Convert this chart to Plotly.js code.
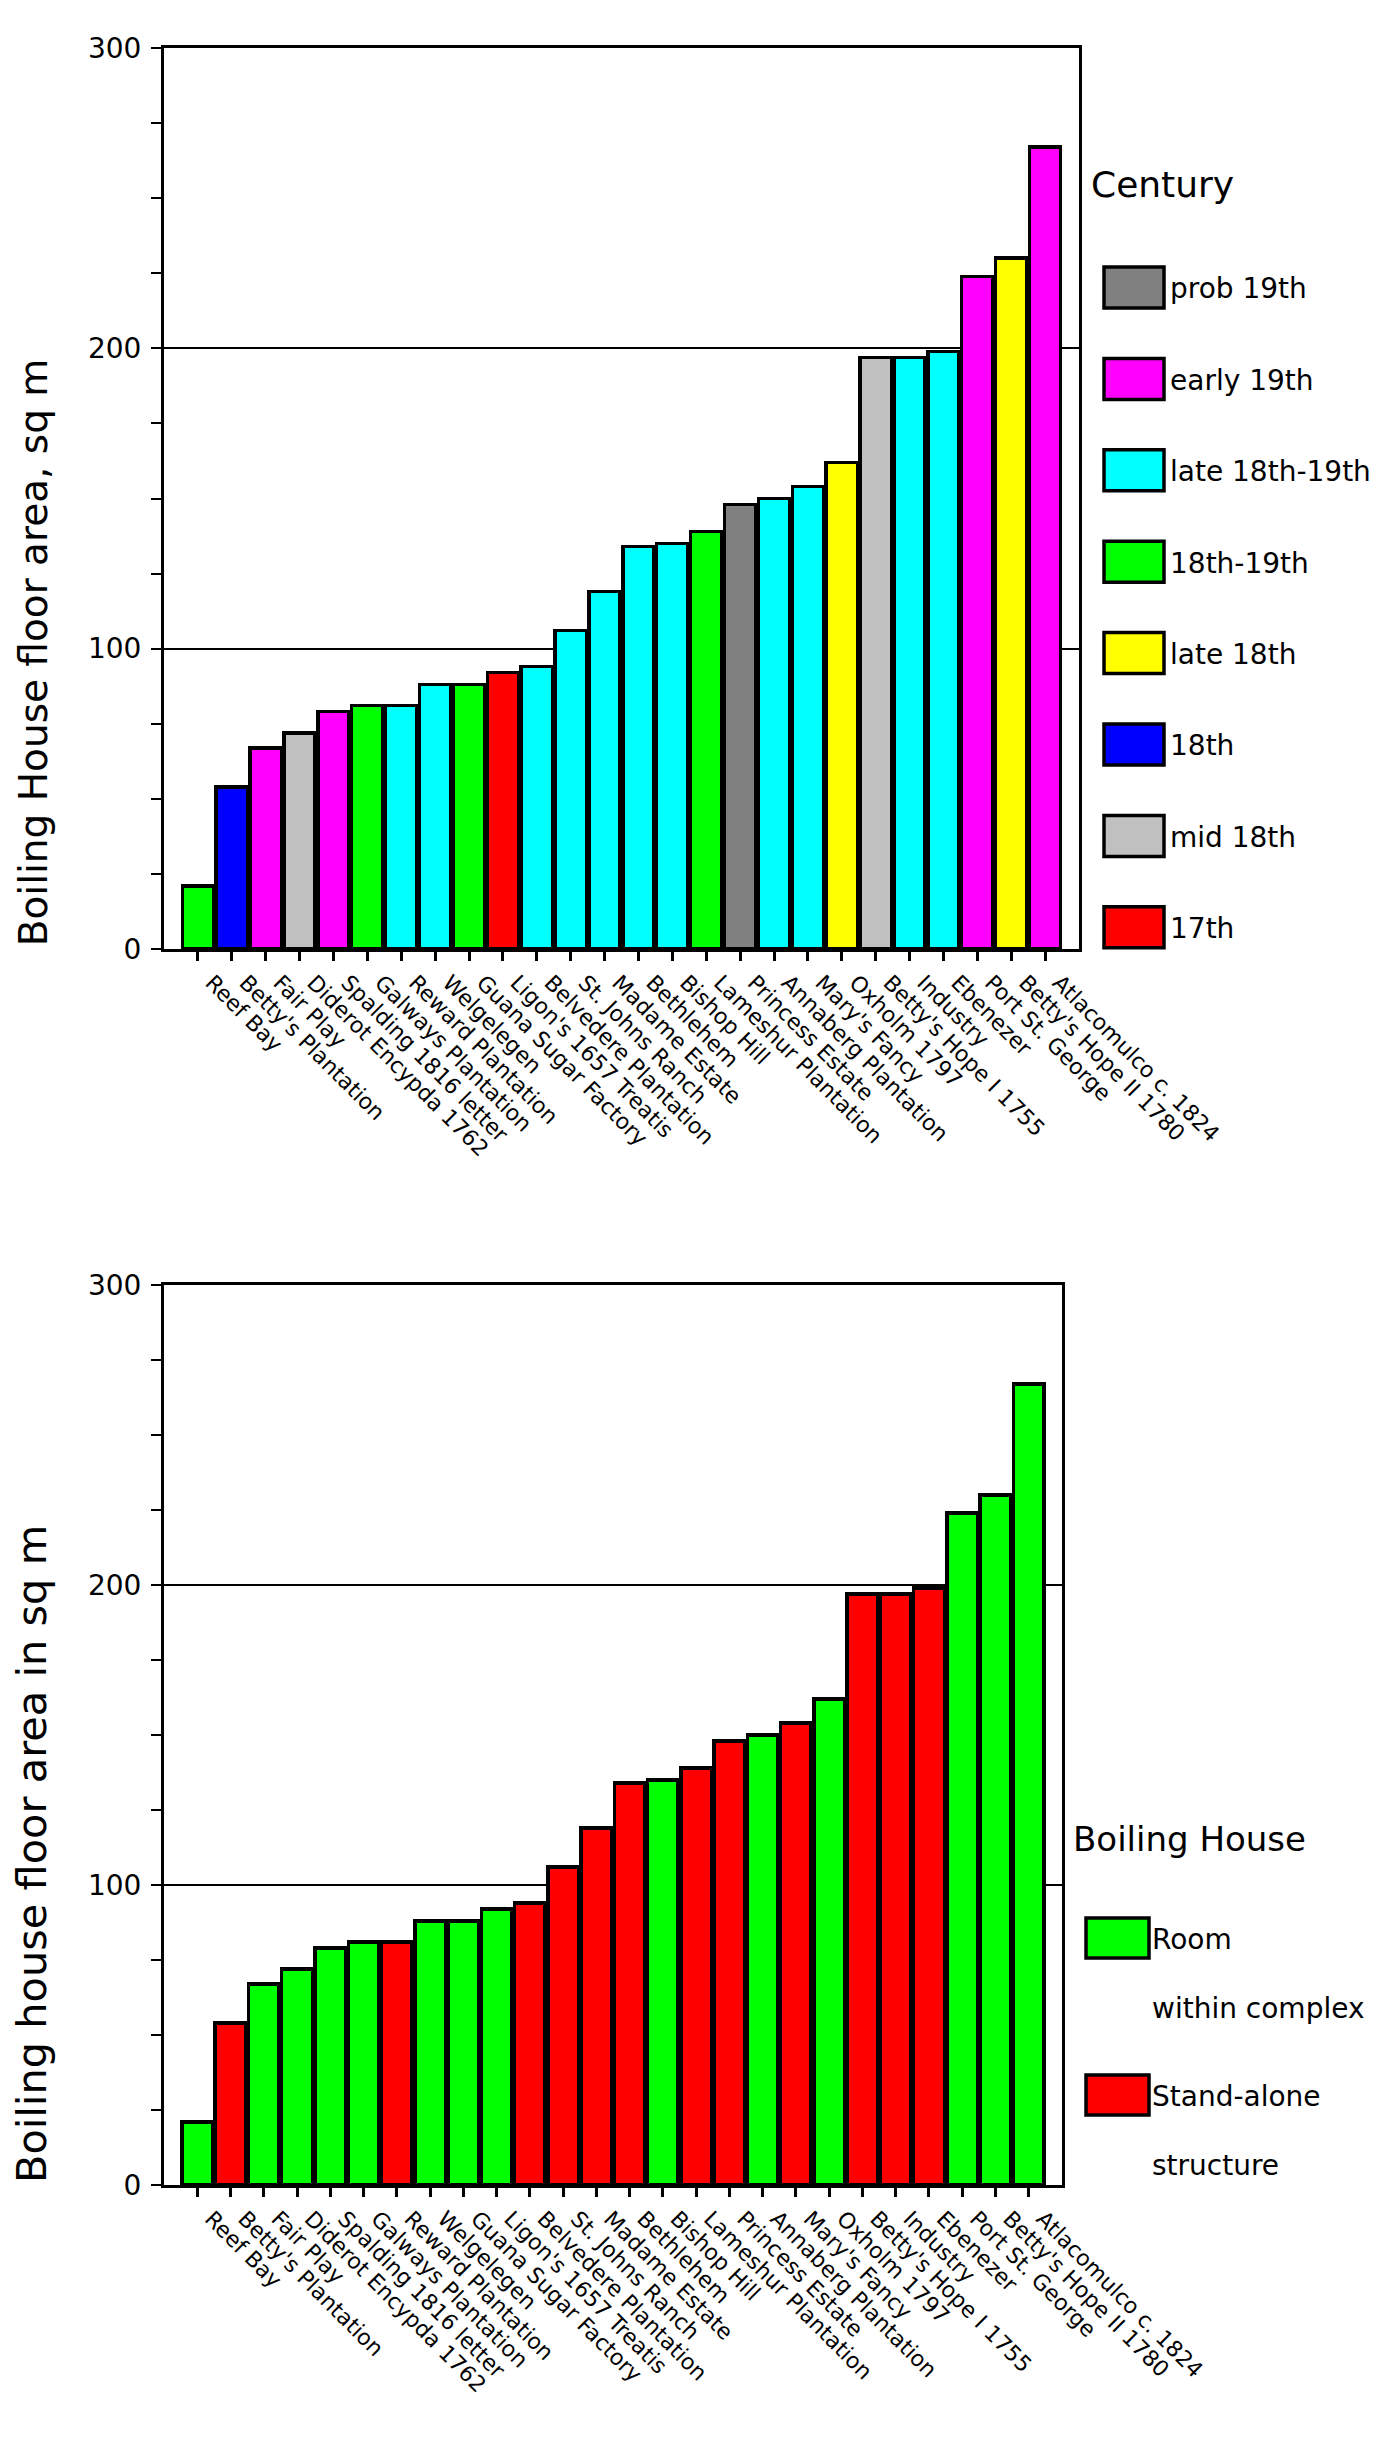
<!DOCTYPE html>
<html><head><meta charset="utf-8">
<script src="https://cdn.plot.ly/plotly-3.0.1.min.js"></script>
<style>
body{margin:0;background:#fff}
/* let legend content extend past its computed box */
#chart g.legend g.scrollbox, #chart g.legend2 g.scrollbox{clip-path:none !important;}
/* large legend swatches as in the reference */
#chart g.legend g.legendpoints path{d:path("M30,20.5H-30V-20.5H30Z");}
#chart g.legend2 g.legendpoints path{d:path("M31.5,20H-31.5V-20H31.5Z");}
/* legend titles sit higher above the entries */
#chart g.legend text.legendtitletext{transform:translate(-9px,-66px);}
#chart g.legend2 text.legend2titletext{transform:translate(-12px,-44px);}
/* two-line entries: first line level with swatch, wide line spacing */
#chart g.legend2 text.legend2text{transform:translate(0px,18px);}
#chart g.legend2 text.legend2text tspan.line + tspan.line{baseline-shift:-33px;}
/* y titles sit lower along the axis */
#chart .g-ytitle{transform:translate(-15px,154px);}
#chart .g-y2title{transform:translate(-15px,119px);}
</style>
</head><body>
<div id="chart" style="width:1396px;height:2452px"></div>
<script>
// ---- data ----
const sites = ["Reef Bay","Betty's Plantation","Fair Play","Diderot Encypda 1762","Spalding 1816 letter","Galways Plantation","Reward Plantation","Welgelegen","Guana Sugar Factory","Ligon's 1657 Treatis","Belvedere Plantation","St. Johns Ranch","Madame Estate","Bethlehem","Bishop Hill","Lameshur Plantation","Princess Estate","Annaberg Plantation","Mary's Fancy","Oxholm 1797","Betty's Hope I 1755","Industry","Ebenezer","Port St. George","Betty's Hope II 1780","Atlacomulco c. 1824"];
const areas = [21,54,67,72,79,81,81,88,88,92,94,106,119,134,135,139,148,150,154,162,197,197,199,224,230,267];
const century = ["18th-19th","18th","early 19th","mid 18th","early 19th","18th-19th","late 18th-19th","late 18th-19th","18th-19th","17th","late 18th-19th","late 18th-19th","late 18th-19th","late 18th-19th","late 18th-19th","18th-19th","prob 19th","late 18th-19th","late 18th-19th","late 18th","mid 18th","late 18th-19th","late 18th-19th","early 19th","late 18th","early 19th"];
const structure = ["Room","Stand-alone","Room","Room","Room","Room","Stand-alone","Room","Room","Room","Stand-alone","Stand-alone","Stand-alone","Stand-alone","Room","Stand-alone","Stand-alone","Room","Stand-alone","Room","Stand-alone","Stand-alone","Stand-alone","Room","Room","Room"];
const centuryOrder = ["prob 19th","early 19th","late 18th-19th","18th-19th","late 18th","18th","mid 18th","17th"];
const centuryColors = ["#808080","#ff00ff","#00ffff","#00ff00","#ffff00","#0000ff","#c0c0c0","#ff0000"];
const structureOrder = ["Room","Stand-alone"];
const structureLabels = ["Room<br>within complex","Stand-alone<br>structure"];
const structureColors = ["#00ff00","#ff0000"];
const yTicks = [0,100,200,300];

// ---- traces ----
const traces = [];
centuryOrder.forEach((c,k)=>{
  const idx = sites.map((s,i)=>i).filter(i=>century[i]===c);
  traces.push({type:'bar', x: idx.map(i=>sites[i]), y: idx.map(i=>areas[i]), name:c,
    marker:{color:centuryColors[k], line:{color:'#000', width:3.5}},
    xaxis:'x', yaxis:'y', legend:'legend', legendgroup:'c'+k, hoverinfo:'x+y'});
});
structureOrder.forEach((c,k)=>{
  const idx = sites.map((s,i)=>i).filter(i=>structure[i]===c);
  traces.push({type:'bar', x: idx.map(i=>sites[i]), y: idx.map(i=>areas[i]), name:structureLabels[k],
    marker:{color:structureColors[k], line:{color:'#000', width:3.5}},
    xaxis:'x2', yaxis:'y2', legend:'legend2', legendgroup:'s'+k, hoverinfo:'x+y'});
});

const W = 1396, H = 2452;
function xAxis(d0, d1, anchor){
  return {domain:[d0/W, d1/W], anchor:anchor, type:'category', categoryorder:'array', categoryarray:sites,
    range:[-1, sites.length], showline:true, linecolor:'#000', linewidth:3, mirror:true,
    ticks:'outside', ticklen:9, tickwidth:3, tickcolor:'#000', tickangle:45, ticklabelshift:14,
    tickfont:{size:22, family:'DejaVu Sans', color:'#000'}, showgrid:false, automargin:false, fixedrange:true};
}
function yAxis(top, bottom, anchor, title, tsize){
  return {domain:[1-bottom/H, 1-top/H], anchor:anchor, range:[0,300], tickmode:'array', tickvals:yTicks,
    showline:true, linecolor:'#000', linewidth:3, mirror:true,
    ticks:'outside', ticklen:10, tickwidth:2, tickcolor:'#000', ticklabelstandoff:4,
    showgrid:true, gridcolor:'#000', gridwidth:2, zeroline:false,
    minor:{dtick:25, tick0:0, ticks:'outside', ticklen:10, tickwidth:2, tickcolor:'#000', showgrid:false},
    tickfont:{size:28, family:'DejaVu Sans', color:'#000'},
    title:{text:title, font:{size:tsize, family:'DejaVu Sans', color:'#000'}, standoff:14},
    automargin:false, fixedrange:true};
}

const layout = {
  width:W, height:H, margin:{l:0,r:0,t:0,b:0}, paper_bgcolor:'#fff', plot_bgcolor:'#fff',
  barmode:'stack', bargap:0.08, showlegend:true,
  font:{family:'DejaVu Sans', color:'#000'},
  xaxis: xAxis(164, 1079, 'y'),
  yaxis: yAxis(48, 949, 'x', 'Boiling House floor area, sq m', 39),
  xaxis2: xAxis(164, 1062, 'y2'),
  yaxis2: yAxis(1285, 2185, 'x2', 'Boiling house floor area in sq m', 41.5),
  legend:{x:1098/W, y:1-216/H, xanchor:'left', yanchor:'top', bgcolor:'rgba(0,0,0,0)',
    font:{size:28, family:'DejaVu Sans', color:'#000'}, itemwidth:62, tracegroupgap:52,
    title:{text:'Century', font:{size:36, family:'DejaVu Sans', color:'#000'}}},
  legend2:{x:1083/W, y:1-1851/H, xanchor:'left', yanchor:'top', bgcolor:'rgba(0,0,0,0)',
    font:{size:28, family:'DejaVu Sans', color:'#000'}, itemwidth:59, tracegroupgap:81,
    title:{text:'Boiling House', font:{size:34, family:'DejaVu Sans', color:'#000'}}}
};

Plotly.newPlot('chart', traces, layout, {staticPlot:true, displayModeBar:false});
</script>
</body></html>
